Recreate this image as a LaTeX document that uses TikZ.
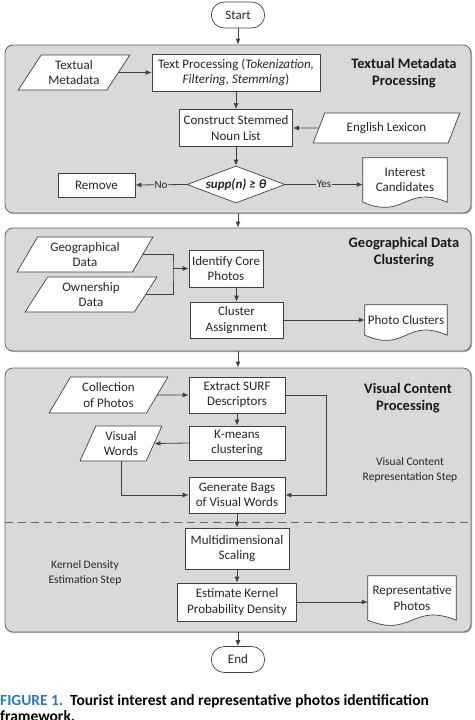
\documentclass[tikz,border=0pt]{standalone}
\usepackage{fontspec}
\setmainfont{Carlito}
\usetikzlibrary{shapes.geometric,shapes.misc,arrows.meta,shadows,calc,backgrounds}
\definecolor{linegray}{HTML}{404040}
\definecolor{panelgray}{HTML}{D9D9D9}
\definecolor{figblue}{HTML}{2B7BBE}

\begin{document}
\begin{tikzpicture}[x=1pt,y=-1pt,
    every node/.style={font=\fontsize{13}{15.5}\selectfont, text=black!85},
    panel/.style={draw=black!60, fill=panelgray, rounded corners=8pt, line width=0.8pt, minimum width=466pt,
      drop shadow={shadow xshift=1.2pt, shadow yshift=-1.2pt, fill=black!60, opacity=0.5}},
    proc/.style={draw=linegray, fill=white, line width=0.7pt, align=center, inner sep=2pt},
    data/.style={trapezium, trapezium left angle=60, trapezium right angle=120, trapezium stretches=true,
      draw=linegray, fill=white, line width=0.7pt, align=center, inner sep=1pt},
    docu/.style={align=center, inner sep=1pt},
    term/.style={rounded rectangle, draw=linegray, fill=white, line width=0.7pt, minimum width=60pt, minimum height=26pt},
    flow/.style={-{Latex[length=6pt,width=5pt]}, draw=linegray, line width=0.8pt},
    title/.style={font=\fontsize{14.5}{17}\selectfont\bfseries, align=center, text=black!90},
    note/.style={font=\fontsize{11.5}{15}\selectfont, align=center},
    capt/.style={font=\fontsize{15.5}{17}\selectfont\bfseries, text=black, inner sep=0pt, anchor=base west}]

    \useasboundingbox (0,0) rectangle (474,720);

    % Panels
    \begin{scope}[on background layer]
        \node[panel, minimum height=168pt] (tmp) at (238,129) {};
        \node[panel, minimum height=123pt] (gdc) at (238,289.5) {};
        \node[panel, minimum height=264pt] (vcp) at (238,500) {};
    \end{scope}

    \node[term] (start) at (238,15) {Start};
    \node[term] (end) at (238,659.5) {End};

    % Textual Metadata Processing
    \node[data, trapezium left angle=55, trapezium right angle=125, minimum width=112pt, minimum height=35pt] (tmeta) at (74,72.5) {Textual\\Metadata};
    \node[proc, minimum width=168pt, minimum height=37pt] (tproc) at (236,72.5) {Text Processing (\textit{Tokenization,}\\\textit{Filtering, Stemming})};
    \node[proc, minimum width=113pt, minimum height=37pt] (stem) at (236,128) {Construct Stemmed\\Noun List};
    \node[data, minimum width=147pt, minimum height=30pt] (lex) at (386.5,128) {English Lexicon};
    \node[diamond, draw=linegray, fill=white, line width=0.7pt, minimum width=98pt, minimum height=37pt, inner sep=0pt, aspect=2.6,
      font=\fontsize{13}{15}\selectfont\bfseries\itshape] (supp) at (236,184.5) {supp(n) ≥ θ};
    \node[proc, minimum width=77pt, minimum height=24pt] (remove) at (96.5,185) {Remove};
    \node[docu, minimum width=84pt, minimum height=44pt] (cand) at (405,180) {Interest\\Candidates};
    \node[title] (tmpt) at (404,73.5) {Textual Metadata\\Processing};

    \draw[flow] (start.south) -- (tmp.north);
    \draw[flow] (tmeta.east) -- (tproc.west);
    \draw[flow] (tproc) -- (stem);
    \draw[flow] (lex.west) -- (stem.east);
    \draw[flow] (stem) -- (supp);
    \draw[flow] (supp.west) -- node[fill=panelgray, inner sep=1pt, font=\fontsize{11}{13}\selectfont] {No} (remove.east);
    \draw[flow] (supp.east) -- node[fill=panelgray, inner sep=1pt, font=\fontsize{11}{13}\selectfont] {Yes} (supp.east -| cand.west);
    \draw[flow] (tmp.south) -- (gdc.north);

    % Geographical Data Clustering
    \node[data, minimum width=136pt, minimum height=35pt] (geo) at (85,254.5) {Geographical\\Data};
    \node[data, minimum width=132pt, minimum height=35pt] (own) at (91,294.5) {Ownership\\Data};
    \node[proc, minimum width=74pt, minimum height=37pt] (ident) at (226,268.5) {Identify Core\\Photos};
    \node[proc, minimum width=93pt, minimum height=36pt] (clus) at (236.5,320) {Cluster\\Assignment};
    \node[docu, minimum width=82pt, minimum height=30pt] (pclus) at (406,320) {Photo Clusters};
    \node[title] (gdct) at (404,252) {Geographical Data\\Clustering};
    \coordinate (jn) at (173,268.5);

    \draw[linegray, line width=0.8pt] (geo.east) -| (jn) |- (own.east);
    \draw[flow] (jn) -- (ident.west);
    \draw[flow] (ident.south -| clus.north) -- (clus.north);
    \draw[flow] (clus.east) -- (clus.east -| pclus.west);
    \draw[flow] (gdc.south) -- (vcp.north);

    % Visual Content Processing
    \node[data, minimum width=119pt, minimum height=36pt] (coll) at (108.5,395) {Collection\\of Photos};
    \node[proc, minimum width=96pt, minimum height=36pt] (surf) at (237,395) {Extract SURF\\Descriptors};
    \node[proc, minimum width=96pt, minimum height=34pt] (kmeans) at (237,443) {K-means\\clustering};
    \node[data, trapezium left angle=67, trapezium right angle=113, minimum width=82pt, minimum height=35pt] (vwords) at (121,443.5) {Visual\\Words};
    \node[proc, minimum width=96pt, minimum height=36pt] (bags) at (237,495) {Generate Bags\\of Visual Words};
    \node[title] (vcpt) at (408,398.5) {Visual Content\\Processing};
    \node[note] (vcrs) at (410,469.5) {Visual Content\\Representation Step};
    \coordinate (rt) at (326,495);

    \draw[flow] (coll.east) -- (surf.west);
    \draw[flow] (surf) -- (kmeans);
    \draw[flow] (kmeans.west) -- (vwords.east);
    \draw[flow] (vwords.south) |- (bags.west);
    \draw[flow] (surf.east) -| (rt) -- (bags.east);

    % Kernel density part
    \draw[black!60, line width=0.8pt, dash pattern=on 8pt off 5pt] (vcp.west |- 0,522) -- (vcp.east |- 0,522);
    \node[proc, minimum width=104pt, minimum height=41pt] (mds) at (237,548.5) {Multidimensional\\Scaling};
    \node[proc, minimum width=119pt, minimum height=38pt] (kde) at (237,602) {Estimate Kernel\\Probability Density};
    \node[docu, minimum width=88pt, minimum height=44pt] (rep) at (412,598) {Representative\\Photos};
    \node[note] (kdes) at (85,572.5) {Kernel Density\\Estimation Step};

    \draw[flow] (bags) -- (mds);
    \draw[flow] (mds) -- (kde);
    \draw[flow] (kde.east) -- (kde.east -| rep.west);
    \draw[flow] (vcp.south) -- (end.north);

    % Document outlines
    \begin{scope}[on background layer]
        \foreach \d in {cand,pclus,rep}
            \draw[linegray, fill=white, line width=0.7pt] (\d.south west) -- (\d.north west) -- (\d.north east) -- (\d.south east)
              .. controls ($(\d.south west)!0.5!(\d.south east)+(0,-18)$) and ($(\d.south west)!0.5!(\d.south east)+(0,18)$) .. (\d.south west) -- cycle;
    \end{scope}

    % Caption
    \node[capt] (cap1) at (0,705) {\textcolor{figblue}{FIGURE 1.}\ \ Tourist interest and representative photos identification};
    \node[capt] (cap2) at ([yshift=-16pt]cap1.base west) {framework.};
\end{tikzpicture}
\end{document}
